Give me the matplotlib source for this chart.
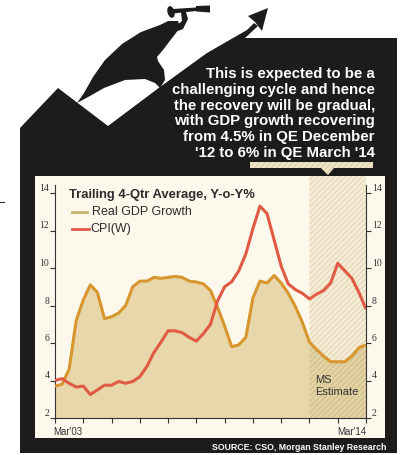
import numpy as np
import matplotlib
matplotlib.use('Agg')
import matplotlib.pyplot as plt
from matplotlib.patches import Polygon, Rectangle, Ellipse
import matplotlib.transforms as mtransforms

# ---------------- data ----------------
gdp = [3.7, 3.8, 4.6, 7.2, 8.3, 9.1, 8.7, 7.3, 7.4, 7.6, 8.0, 9.0, 9.3, 9.3, 9.5,
       9.45, 9.5, 9.55, 9.5, 9.3, 9.25, 9.15, 8.8, 7.9, 6.9, 5.8, 5.9, 6.3, 8.4,
       9.3, 9.2, 9.6, 9.2, 8.65, 7.95, 7.1, 6.05, 5.65, 5.3, 5.0, 5.0, 5.0, 5.3,
       5.75, 5.9]
cpi = [4.0, 4.1, 3.85, 3.65, 3.7, 3.25, 3.5, 3.75, 3.75, 3.95, 3.85, 3.95, 4.2,
       4.75, 5.5, 6.05, 6.65, 6.65, 6.55, 6.3, 6.1, 6.5, 7.0, 8.25, 9.0, 9.27,
       9.85, 10.75, 12.1, 13.3, 12.9, 11.5, 10.1, 9.15, 8.85, 8.65, 8.35, 8.6,
       8.8, 9.2, 10.25, 9.85, 9.45, 8.7, 7.8]
x_labels = ["Mar'03", "Mar'14"]
estimate_start = 36          # quarter index of Mar'12
yticks = [2, 4, 6, 8, 10, 12, 14]
series_names = ["Real GDP Growth", "CPI(W)"]
title = "Trailing 4-Qtr Average, Y-o-Y%"
headline = ["This is expected to be a",
            "challenging cycle and hence",
            "the recovery will be gradual,",
            "with GDP growth recovering",
            "from 4.5% in QE December",
            "'12 to 6% in QE March '14"]
source = "SOURCE: CSO, Morgan Stanley Research"
est_label = "MS\nEstimate"

# ---------------- style ----------------
NARROW = ['Liberation Sans Narrow', 'Liberation Sans', 'DejaVu Sans']
SANS = ['Liberation Sans', 'DejaVu Sans']
SERIF = ['Liberation Serif', 'DejaVu Serif']
CREAM = '#fcf8ec'
TAN = '#e8d7ab'
GDP_C = '#d8962e'
CPI_C = '#e05a44'
GDP_LEG = '#c9b46c'
DARK = '#2c2c2c'
INK = '#1e1c1b'
plt.rcParams['hatch.linewidth'] = 0.8

W, H = 402, 455
fig = plt.figure(figsize=(W / 100, H / 100), dpi=100)
fig.patch.set_facecolor('white')

# background / decoration axes in pixel coords
bg = fig.add_axes([0, 0, 1, 1], zorder=0)
bg.set_xlim(0, W)
bg.set_ylim(H, 0)
bg.axis('off')

panel = [(20, 453), (20, 128), (58, 88), (108, 126), (160, 87), (207, 53),
         (247, 30), (254, 23), (258, 26), (245, 38), (397, 38), (397, 453)]
bg.add_patch(Polygon(panel, closed=True, fc=INK, ec='none'))
arrow_head = [(268, 8), (248, 16), (255, 22), (262, 31)]
bg.add_patch(Polygon(arrow_head, closed=True, fc=INK, ec='none'))
body = [(168, 21), (160, 25), (141, 32), (122, 44), (105, 60), (93, 77), (84, 93),
        (77, 103), (90, 96), (104, 88), (125, 80), (145, 79), (155, 83), (160, 88),
        (165, 80), (164, 70), (158, 61), (157, 57), (163, 50), (169, 42),
        (176, 33), (180, 27), (178, 21)]
bg.add_patch(Polygon(body, closed=True, fc=INK, ec='none'))
arm = [(175, 32), (183, 29), (188, 19), (186, 12), (181, 12), (182, 21), (176, 26)]
bg.add_patch(Polygon(arm, closed=True, fc=INK, ec='none'))
bg.add_patch(Ellipse((171, 12), 7, 12, angle=-15, fc=INK, ec='none'))
scope = [(173, 9), (196, 7.5), (196, 6), (210, 5.5), (210, 12.5), (196, 11.5),
         (196, 11), (173, 13.5)]
bg.add_patch(Polygon(scope, closed=True, fc=INK, ec='none'))
bg.plot([0, 4], [202, 202], color='#333333', lw=0.8)

# headline callout strip
bg.add_patch(Rectangle((250, 162), 123, 6, fc='#efe6cc', ec='#d9cba4',
                       hatch='//////', lw=0))
bg.add_patch(Polygon([(321, 168), (334, 168), (328, 175)], closed=True,
                     fc='#efe6cc', ec='#d9cba4', hatch='//////', lw=0))

# cream chart box
bg.add_patch(Rectangle((35, 176), 350, 262, fc=CREAM, ec='none'))

for i, line in enumerate(headline):
    bg.text(375, 74 + i * 15.8, line, ha='right', va='center', color='white',
            fontsize=10.8, fontweight='bold', family=NARROW)
bg.text(386, 447, source, ha='right', va='center', color='white',
        fontsize=6.3, fontweight='bold', family=NARROW)

# ---------------- data axes ----------------
px_per_unit = 18.75
left, right, bottom_px, top_px = 55, 366, 418, 176
ax = fig.add_axes([left / W, 1 - bottom_px / H, (right - left) / W,
                   (bottom_px - top_px) / H], zorder=1)
ax.patch.set_alpha(0)
ymin = yticks[0]
ymax = ymin + (bottom_px - top_px) / px_per_unit
x = np.arange(len(gdp))
g = np.array(gdp)
c = np.array(cpi)
ax.set_xlim(x[0], x[-1])
ax.set_ylim(ymin, ymax)

e = estimate_start
ax.fill_between(x[:e + 1], ymin, g[:e + 1], color=TAN, lw=0, zorder=1)
ax.fill_between(x[e:], g[e:], ymax, facecolor='#f4ecd6', edgecolor='#e4d7b4',
                hatch='//////', lw=0, zorder=1)
ax.fill_between(x[e:], ymin, g[e:], facecolor='#e2d2a4', edgecolor='#d2bf8c',
                hatch='//////', lw=0, zorder=1)

ax.plot(x, g, color=GDP_C, lw=2.2, solid_joinstyle='round',
        solid_capstyle='butt', zorder=3)
ax.plot(x, c, color=CPI_C, lw=2.2, solid_joinstyle='round',
        solid_capstyle='butt', zorder=4)

for s in ['left', 'right']:
    ax.spines[s].set_bounds(ymin, 14.45)
    ax.spines[s].set_color('#333333')
    ax.spines[s].set_linewidth(0.8)
ax.spines['bottom'].set_color('#333333')
ax.spines['bottom'].set_linewidth(0.8)
ax.spines['top'].set_visible(False)

ax.set_xticks(x[::4])
ax.set_xticklabels([])
ax.tick_params(axis='x', direction='out', length=3.6, width=0.8, color='#333333')
ax.set_yticks(yticks)
ax.set_yticklabels([str(v) for v in yticks])
ax.tick_params(axis='y', direction='out', length=3.6, width=0.8, color='#333333',
               left=True, right=True, labelleft=True, labelright=True,
               labelsize=7, labelcolor='#333333', pad=0.5)
for t in ax.yaxis.get_major_ticks():
    t.label1.set_va('bottom')
    t.label2.set_va('bottom')
    t.label1.set_family(SERIF)
    t.label2.set_family(SERIF)

tb = mtransforms.blended_transform_factory(ax.transData, fig.transFigure)
ax.text(x[0] - 0.3, 1 - 432 / H, x_labels[0], transform=tb, ha='left',
        va='center', fontsize=7, color='#333333', family=SANS)
ax.text(x[-1], 1 - 432 / H, x_labels[1], transform=tb, ha='right',
        va='center', fontsize=7, color='#333333', family=SANS)

# ---------------- overlay text ----------------
ov = fig.add_axes([0, 0, 1, 1], zorder=3)
ov.set_xlim(0, W)
ov.set_ylim(H, 0)
ov.axis('off')
ov.patch.set_alpha(0)
ov.text(69, 195, title, ha='left', va='center', color=DARK, fontsize=9.4,
        fontweight='bold', family=NARROW)
ov.plot([72, 87], [212, 212], color=GDP_LEG, lw=2)
ov.text(92, 212, series_names[0], ha='left', va='center', color=DARK,
        fontsize=9, family=SANS)
ov.plot([72, 89], [229, 229], color=CPI_C, lw=2)
ov.text(90, 229, series_names[1], ha='left', va='center', color=DARK,
        fontsize=9, family=SANS)
ov.text(315, 386, est_label, ha='left', va='center', color='#333333',
        fontsize=8, family=SANS, linespacing=1.15)

fig.savefig('out.png', dpi=100, facecolor='white')
